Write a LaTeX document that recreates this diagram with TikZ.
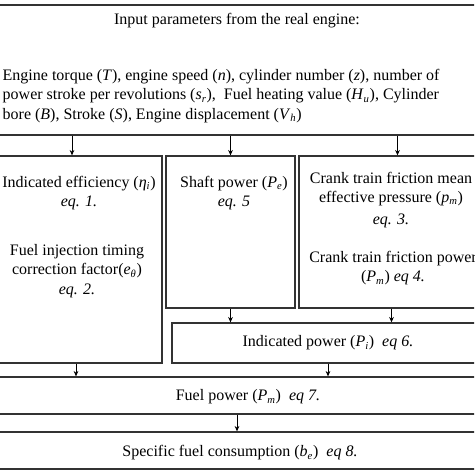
\documentclass[tikz,border=0pt]{standalone}
\usepackage{fontspec}
\setmainfont{Liberation Serif}
\usetikzlibrary{arrows.meta,positioning}
\definecolor{boxline}{HTML}{333333}
\newcommand{\vsub}[2]{\textit{#1}\textsubscript{\textit{#2}}}

\begin{document}
\begin{tikzpicture}[x=0.75pt,y=-0.75pt,
		every node/.style={font=\fontsize{12}{14.6}\selectfont},
		box/.style={draw=boxline,line width=1pt,inner sep=0pt,rectangle},
		arr/.style={draw=black,line width=0.5pt,-{Stealth[length=4pt,width=3.5pt]}}]
		\useasboundingbox (0,0) rectangle (474,474);
		\clip (0,0) rectangle (474,474);
		% boxes
		\node[box,minimum width=370.5pt,minimum height=97.5pt] (input) at (237,70) {};
		\node[box,minimum width=129pt,minimum height=155.25pt] (effic) at (76,259.5) {};
		\node[box,minimum width=96.75pt,minimum height=114pt] (shaft) at (230.5,232) {};
		\node[box,minimum width=138.75pt,minimum height=114pt] (crank) at (391.5,232) {};
		\node[box,minimum width=234pt,minimum height=30pt] (indic) at (328,343) {};
		\node[box,minimum width=370.5pt,minimum height=27.75pt] (fuel) at (237,395.5) {};
		\node[box,minimum width=370.5pt,minimum height=27.75pt] (sfc) at (237,450.5) {};
		% texts
		\node (inhead) at (237,21) {Input parameters from the real engine:};
		\node[anchor=west,align=left] (inparams) at (-2,96) {Engine torque (\textit{T}), engine speed (\textit{n}), cylinder number (\textit{z}), number of\\
			power stroke per revolutions (\vsub{s}{r}),\ \ Fuel heating value (\vsub{H}{u}), Cylinder\\
			bore (\textit{B}), Stroke (\textit{S}), Engine displacement (\vsub{V}{h})};
		\node[align=center] (effictxt) at (79,193) {Indicated efficiency (\vsub{η}{i})\\\textit{eq. 1.}};
		\node[align=center] (injtxt) at (77,271) {Fuel injection timing\\correction factor(\vsub{e}{θ})\\\textit{eq. 2.}};
		\node[align=center] (shafttxt) at (234,193) {Shaft power (\vsub{P}{e})\\\textit{eq. 5}};
		\node[align=center] (fmeptxt) at (391,200) {Crank train friction mean\\effective pressure (\vsub{p}{m})\\[2pt]\textit{eq. 3.}};
		\node[align=center] (fpowtxt) at (393,268) {Crank train friction power\\(\vsub{P}{m}) \textit{eq 4.}};
		\node (indictxt) at (indic) {Indicated power (\vsub{P}{i})\ \ \textit{eq 6.}};
		\node (fueltxt) at (248,397) {Fuel power (\vsub{P}{m})\ \ \textit{eq 7.}};
		\node (sfctxt) at (240,453) {Specific fuel consumption (\vsub{b}{e})\ \ \textit{eq 8.}};
		% arrows
		\draw[arr] ([xshift=-3pt]effic.north |- input.south) -- ([xshift=-3pt]effic.north);
		\draw[arr] (shaft.north |- input.south) -- (shaft.north);
		\draw[arr] ([xshift=4.5pt]crank.north |- input.south) -- ([xshift=4.5pt]crank.north);
		\draw[arr] (shaft.south) -- (shaft.south |- indic.north);
		\draw[arr] (crank.south) -- (crank.south |- indic.north);
		\draw[arr] (effic.south) -- (effic.south |- fuel.north);
		\draw[arr] (indic.south) -- (indic.south |- fuel.north);
		\draw[arr] (fuel.south) -- (sfc.north);
	\end{tikzpicture}
\end{document}
